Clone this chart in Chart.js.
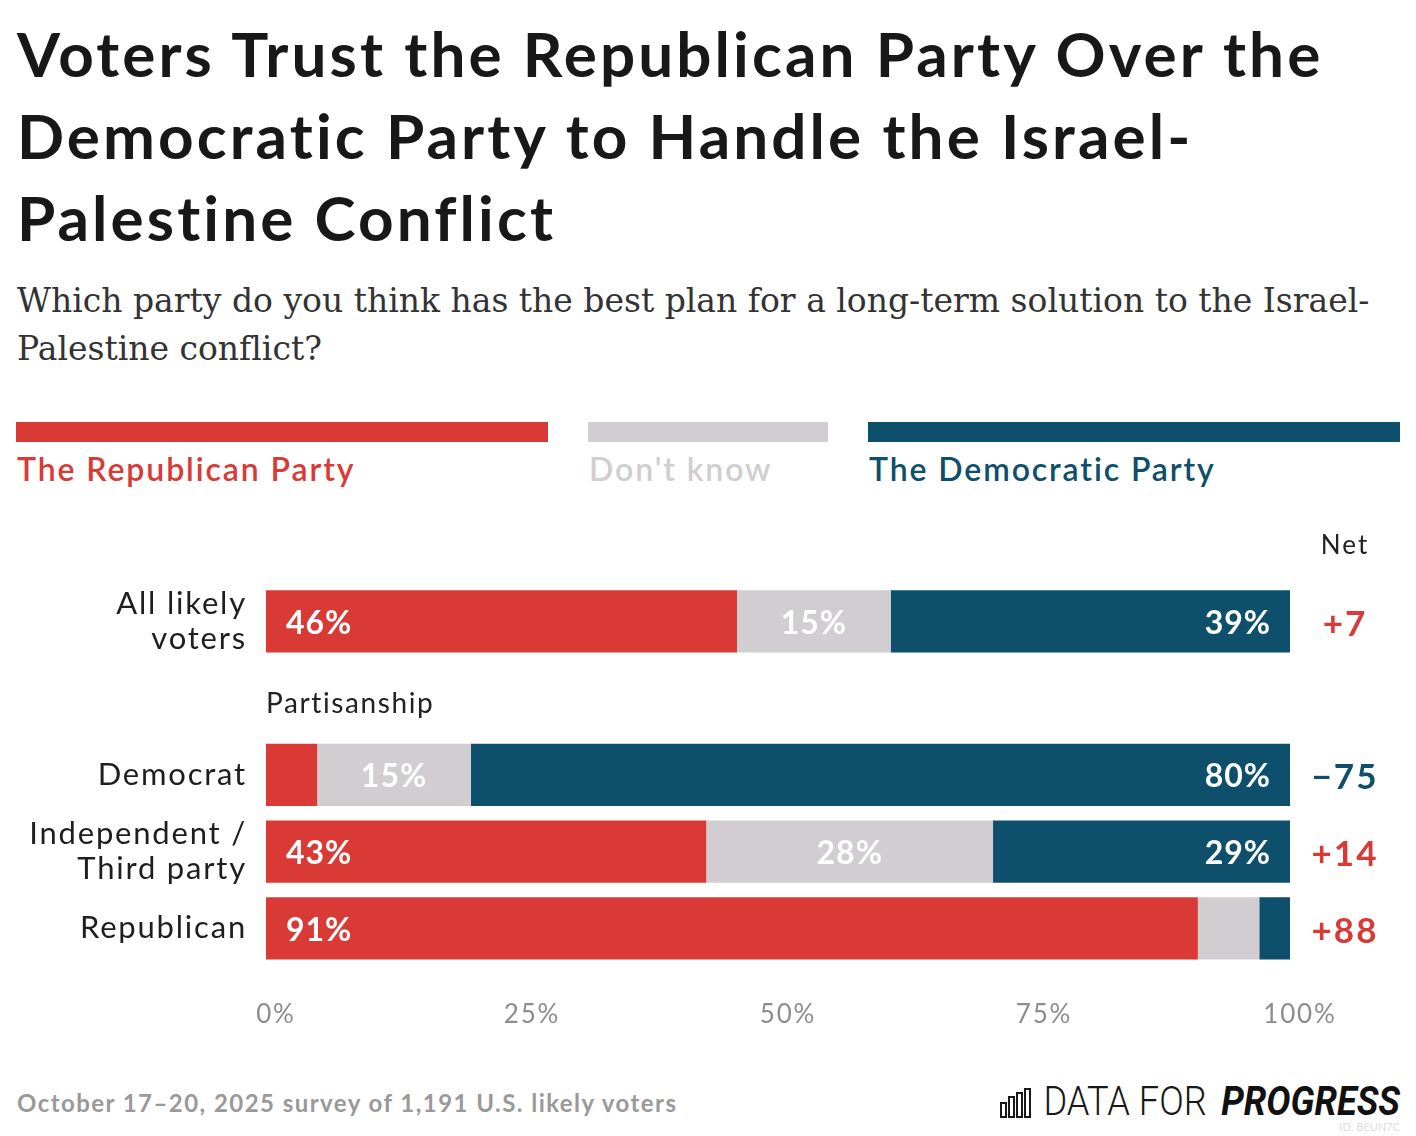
<!DOCTYPE html>
<html>
<head>
<meta charset="utf-8">
<script src="https://cdn.jsdelivr.net/npm/chart.js@4.4.1/dist/chart.umd.min.js"></script>
<style>
  body { margin: 0; background: #fff; width: 1416px; height: 1136px; position: relative; overflow: hidden; font-family: Lato, "Noto Sans", sans-serif; font-variant-ligatures: none; }
  #title { position: absolute; left: 17px; top: 12px; font-weight: 700; font-size: 62px; letter-spacing: 3.1px; line-height: 82px; color: #181818; white-space: nowrap; }
  #subtitle { position: absolute; left: 17px; top: 277px; font-family: "DejaVu Serif", serif; font-size: 33px; line-height: 48px; color: #333; white-space: nowrap; }
  .lg-bar { position: absolute; top: 422px; height: 20px; }
  .lg-text { position: absolute; top: 449px; font-size: 32px; font-weight: 600; letter-spacing: 1.9px; white-space: nowrap; }
  #chartBox { position: absolute; left: 0; top: 520px; width: 1416px; height: 553px; }
  #source { position: absolute; left: 17px; top: 1088px; font-size: 24px; font-weight: 700; letter-spacing: 1.45px; color: #999; white-space: nowrap; }
  #logo { position: absolute; left: 1000px; top: 1080px; width: 400px; height: 44px; }
  #logo .icon { position: absolute; left: 0; bottom: 6px; display: flex; align-items: flex-end; gap: 1px; }
  #logo .icon div { width: 3px; border: 2px solid #181818; }
  #logo .txt { position: absolute; right: 0; bottom: 0; transform: scaleX(0.905); transform-origin: right bottom; white-space: nowrap; font-size: 40px; line-height: 44px; }
  #logo .t1 { font-family: Roboto, "Liberation Sans", sans-serif; font-weight: 300; color: #181818; }
  #logo .t2 { font-family: Roboto, "Liberation Sans", sans-serif; font-weight: 700; font-style: italic; color: #111; margin-left: 16px; }
  #chartid { position: absolute; right: 16px; top: 1120px; font-size: 11px; color: #ddd; }
</style>
</head>
<body>
<div id="title">Voters Trust the Republican Party Over the<br>Democratic Party to Handle the Israel-<br>Palestine Conflict</div>
<div id="subtitle">Which party do you think has the best plan for a long-term solution to the Israel-<br>Palestine conflict?</div>

<div class="lg-bar" style="left:16px;width:532px;background:#DA3A36"></div>
<div class="lg-bar" style="left:588px;width:240px;background:#D1CDD0"></div>
<div class="lg-bar" style="left:868px;width:532px;background:#0E4F6B"></div>
<div class="lg-text" style="left:17px;color:#DA3A36">The Republican Party</div>
<div class="lg-text" style="left:589px;color:#D1CDD0">Don't know</div>
<div class="lg-text" style="left:869px;color:#0E4F6B">The Democratic Party</div>

<div id="chartBox"><canvas id="chart" width="1416" height="553"></canvas></div>

<div id="source">October 17–20, 2025 survey of 1,191 U.S. likely voters</div>
<div id="logo">
  <div class="icon"><div style="height:12px"></div><div style="height:18px"></div><div style="height:22px"></div><div style="height:26px"></div></div>
  <div class="txt"><span class="t1">DATA FOR</span><span class="t2">PROGRESS</span></div>
</div>
<div id="chartid">ID: BEUN7C</div>

<script>
// rows (slot 1 is the "Partisanship" group heading)
const groups = [["All likely", "voters"], "", "Democrat", ["Independent /", "Third party"], "Republican"];
const republican = [46, null, 5, 43, 91];
const dontKnow = [15, null, 15, 28, 6];
const democratic = [39, null, 80, 29, 3];
const xTicks = [0, 25, 50, 75, 100];

const RED = "#DA3A36";
const GRAY = "#D1CDD0";
const BLUE = "#0E4F6B";
const FONT = "Lato, 'Noto Sans', sans-serif";

// wider letters for axis text (closer to the original typeface)
const spacing = {
  id: "spacing",
  beforeDraw(chart) { chart.ctx.letterSpacing = "1.8px"; }
};

// labels inside the bars + net column + group heading
const annotations = {
  id: "annotations",
  afterDatasetsDraw(chart) {
    const ctx = chart.ctx;
    const yScale = chart.scales.y;
    const area = chart.chartArea;
    ctx.save();
    ctx.textBaseline = "middle";
    ctx.letterSpacing = "1px";
    ctx.font = "700 32px " + FONT;
    ctx.fillStyle = "#fff";
    chart.data.datasets.forEach((ds, di) => {
      const meta = chart.getDatasetMeta(di);
      meta.data.forEach((bar, i) => {
        const v = ds.data[i];
        if (v == null || v < 10) return;
        const txt = v + "%";
        if (di === 0) {
          ctx.textAlign = "left";
          ctx.fillText(txt, bar.base + 20, bar.y + 2);
        } else if (di === 1) {
          ctx.textAlign = "center";
          ctx.fillText(txt, (bar.base + bar.x) / 2, bar.y + 2);
        } else {
          ctx.textAlign = "right";
          ctx.fillText(txt, bar.x - 19, bar.y + 2);
        }
      });
    });

    // net column
    const netX = area.right + 55;
    ctx.textAlign = "center";
    ctx.letterSpacing = "2px";
    ctx.font = "400 26px " + FONT;
    ctx.fillStyle = "#222";
    ctx.fillText("Net", netX, 26);
    ctx.font = "700 35px " + FONT;
    republican.forEach((r, i) => {
      if (r == null) return;
      const net = r - democratic[i];
      ctx.fillStyle = net >= 0 ? RED : BLUE;
      const txt = net > 0 ? "+" + net : net < 0 ? "\u2212" + Math.abs(net) : "0";
      ctx.fillText(txt, netX, yScale.getPixelForValue(i) + 3);
    });

    // group heading
    ctx.textAlign = "left";
    ctx.letterSpacing = "1.6px";
    ctx.font = "400 28px " + FONT;
    ctx.fillStyle = "#222";
    ctx.fillText("Partisanship", area.left, yScale.getPixelForValue(1) + 6);
    ctx.restore();
  }
};

new Chart(document.getElementById("chart"), {
  type: "bar",
  data: {
    labels: groups,
    datasets: [
      { label: "The Republican Party", data: republican, backgroundColor: RED },
      { label: "Don't know", data: dontKnow, backgroundColor: GRAY },
      { label: "The Democratic Party", data: democratic, backgroundColor: BLUE }
    ]
  },
  options: {
    indexAxis: "y",
    responsive: false,
    animation: false,
    devicePixelRatio: 1,
    barPercentage: 1,
    categoryPercentage: 0.81,
    layout: { padding: { top: 63, right: 126, bottom: 11, left: 0 } },
    plugins: { legend: { display: false }, tooltip: { enabled: false } },
    scales: {
      x: {
        stacked: true,
        min: 0,
        max: 100,
        afterBuildTicks: (scale) => { scale.ticks = xTicks.map(v => ({ value: v })); },
        grid: { display: false, drawTicks: false },
        border: { display: false },
        ticks: {
          color: "#8c8c8c",
          font: { family: FONT, size: 26 },
          padding: 32,
          labelOffset: 10,
          maxRotation: 0,
          callback: (v) => v + "%"
        }
      },
      y: {
        stacked: true,
        grid: { display: false, drawTicks: false },
        border: { display: false },
        afterFit: (scale) => { scale.width = 266; },
        ticks: {
          autoSkip: false,
          color: "#1e1e1e",
          font: { family: FONT, size: 31, lineHeight: 1.13 },
          padding: 19
        }
      }
    }
  },
  plugins: [spacing, annotations]
});
</script>
</body>
</html>
